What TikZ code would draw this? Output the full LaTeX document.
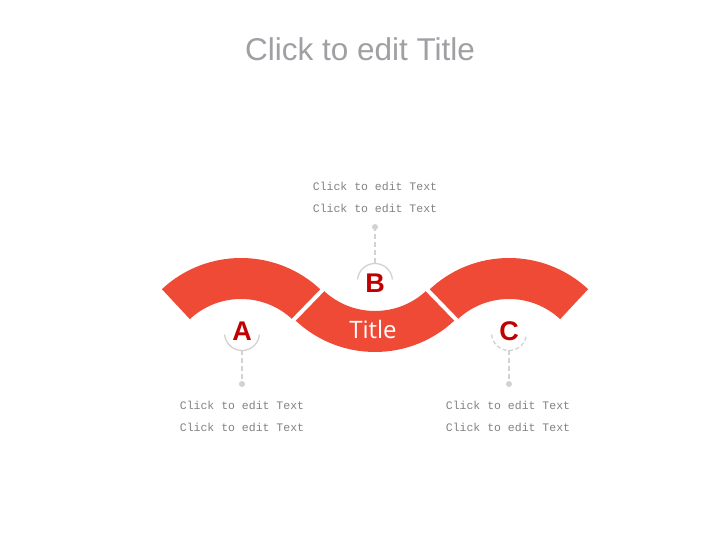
\documentclass[tikz,border=0pt]{standalone}
\usepackage{fontspec}
\setmainfont{Liberation Sans}
\newfontfamily\titlefont{Liberation Sans}
\newfontfamily\monofont{Liberation Mono}
\newfontfamily\opensans{Open Sans}
\usetikzlibrary{calc}
\definecolor{wavered}{RGB}{239,74,54}
\definecolor{letterred}{RGB}{192,0,0}
\definecolor{titlegray}{RGB}{160,160,164}
\definecolor{textgray}{RGB}{130,130,130}
\definecolor{linegray}{RGB}{210,210,210}
\begin{document}
\begin{tikzpicture}[x=1pt,y=1pt,
  wave/.style={fill=wavered},
  cut/.style={draw=white,line width=4pt},
  letter/.style={text=letterred,font=\fontsize{27}{27}\selectfont\bfseries,inner sep=0pt},
  ring/.style={draw=linegray,line width=1.3pt},
  stem/.style={draw=linegray,line width=1.5pt,dash pattern=on 5pt off 3pt},
  dotmark/.style={circle,fill=linegray,inner sep=0pt,minimum size=6pt},
  bodytext/.style={text=textgray,font=\monofont\fontsize{11.5}{22}\selectfont,align=center}]
\useasboundingbox (0,0) rectangle (721,540);
\fill[white] (0,0) rectangle (721,540);
% title
\node[text=titlegray,font=\titlefont\fontsize{31.5}{31.5}\selectfont] (title) at (360,491) {Click to edit Title};
% arc centres
\coordinate (lc) at (241,166);
\coordinate (mc) at (375,304);
\coordinate (rc) at (509,166);
% sectors
\fill[wave] ([shift={(45.84:116pt)}]lc) arc[start angle=45.84,end angle=133,radius=116pt]
  -- ([shift={(133:75pt)}]lc) arc[start angle=133,end angle=45.84,radius=75pt] -- cycle;
\fill[wave] ([shift={(225.84:116pt)}]mc) arc[start angle=225.84,end angle=314.16,radius=116pt]
  -- ([shift={(314.16:75pt)}]mc) arc[start angle=314.16,end angle=225.84,radius=75pt] -- cycle;
\fill[wave] ([shift={(47:116pt)}]rc) arc[start angle=47,end angle=134.16,radius=116pt]
  -- ([shift={(134.16:75pt)}]rc) arc[start angle=134.16,end angle=47,radius=75pt] -- cycle;
% cuts
\draw[cut] ([shift={(45.84:68pt)}]lc) -- ([shift={(45.84:124pt)}]lc);
\draw[cut] ([shift={(134.16:68pt)}]rc) -- ([shift={(134.16:124pt)}]rc);
% middle label
\node[text=white,font=\opensans\fontsize{24}{24}\selectfont] (mid) at (373,210) {Title};
% letter A
\coordinate (ac) at (242,207);
\draw[ring] ([shift={(185:17.5pt)}]ac) arc[start angle=185,end angle=355,radius=17.5pt];
\node[letter] (la) at (242,209) {A};
\coordinate (abot) at (242,189.5);
\node[dotmark] (adot) at (242,156) {};
\draw[stem] (abot) -- (adot);
\node[bodytext] (atext) at (242,124) {Click to edit Text\\Click to edit Text};
% letter B
\coordinate (bc) at (375,259);
\draw[ring] ([shift={(5:17.5pt)}]bc) arc[start angle=5,end angle=175,radius=17.5pt];
\node[letter] (lb) at (375,257) {B};
\coordinate (btop) at (375,276.5);
\node[dotmark] (bdot) at (375,313) {};
\draw[stem] (btop) -- (bdot);
\node[bodytext] (btext) at (375,343) {Click to edit Text\\Click to edit Text};
% letter C
\coordinate (cc) at (509,207);
\draw[ring,dash pattern=on 4pt off 2.5pt] ([shift={(185:17.5pt)}]cc) arc[start angle=185,end angle=355,radius=17.5pt];
\node[letter] (lc2) at (509,209) {C};
\coordinate (cbot) at (509,189.5);
\node[dotmark] (cdot) at (509,156) {};
\draw[stem] (cbot) -- (cdot);
\node[bodytext] (ctext) at (508,124) {Click to edit Text\\Click to edit Text};
\end{tikzpicture}
\end{document}
